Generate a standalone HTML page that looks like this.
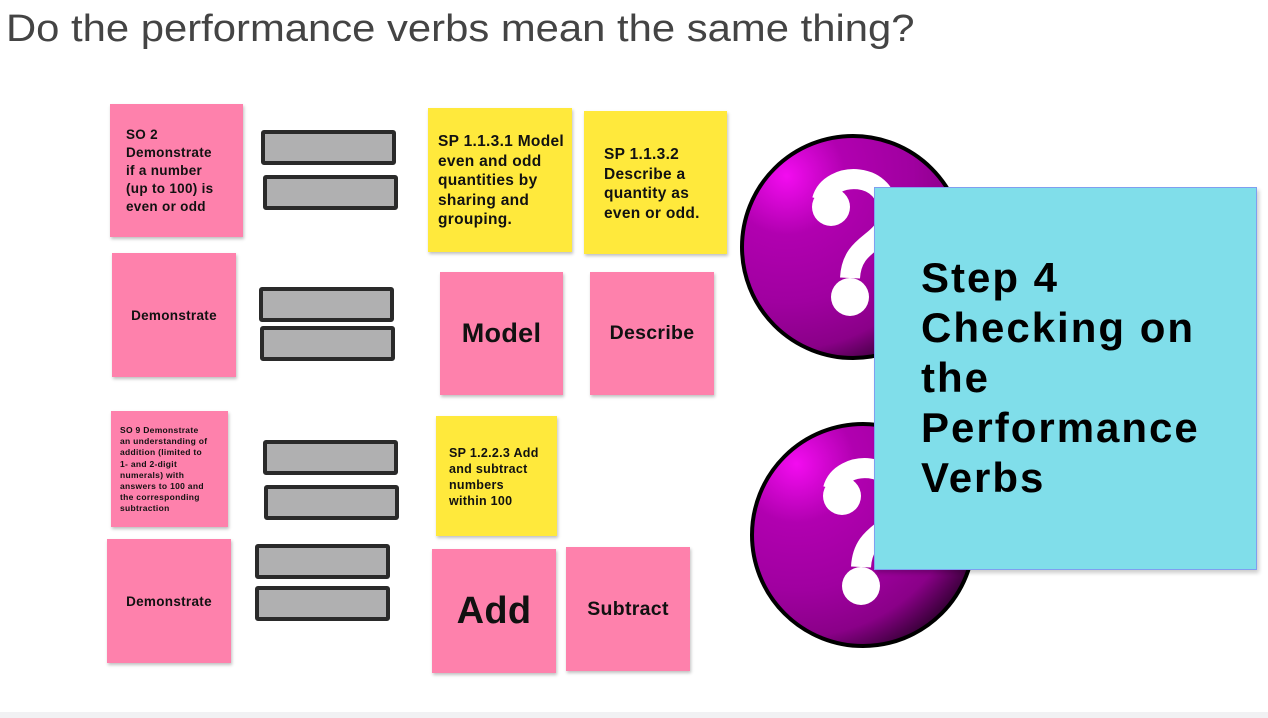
<!DOCTYPE html>
<html><head><meta charset="utf-8"><style>
body{margin:0;width:1268px;height:718px;background:#fff;position:relative;overflow:hidden;font-family:"Liberation Sans",sans-serif}
.a{position:absolute;box-sizing:border-box}
.n{position:absolute;box-sizing:border-box;box-shadow:1px 2px 3px rgba(0,0,0,.25);font-weight:bold;color:#111;letter-spacing:0.3px;white-space:nowrap}
.p{background:#fe81ac}.y{background:#ffe93c}
.g{position:absolute;box-sizing:border-box;background:#b0b0b1;border:4px solid #2a2a2a;border-radius:3px;width:135px;height:35px}
.c{display:flex;align-items:center;justify-content:center}
</style></head><body>
<div class="a" style="left:6px;top:8px;font-size:38px;color:#444;transform:scaleX(1.1);transform-origin:0 0;white-space:nowrap">Do the performance verbs mean the same thing?</div>

<div class="n p" style="left:110px;top:104px;width:133px;height:133px;padding:22px 16px;font-size:13.5px;line-height:18px">SO 2<br>Demonstrate<br>if a number<br>(up to 100) is<br>even or odd</div>
<div class="n p c" style="left:112px;top:253px;width:124px;height:124px;font-size:13.5px">Demonstrate</div>
<div class="n p" style="left:111px;top:411px;width:117px;height:116px;padding:14px 9px;font-size:8.5px;line-height:11.2px">SO 9 Demonstrate<br>an understanding of<br>addition (limited to<br>1- and 2-digit<br>numerals) with<br>answers to 100 and<br>the corresponding<br>subtraction</div>
<div class="n p c" style="left:107px;top:539px;width:124px;height:124px;font-size:13.5px">Demonstrate</div>

<div class="g" style="left:261px;top:130px"></div><div class="g" style="left:263px;top:175px"></div>
<div class="g" style="left:259px;top:287px"></div><div class="g" style="left:260px;top:326px"></div>
<div class="g" style="left:263px;top:440px"></div><div class="g" style="left:264px;top:485px"></div>
<div class="g" style="left:255px;top:544px"></div><div class="g" style="left:255px;top:586px"></div>

<div class="n y" style="left:428px;top:108px;width:144px;height:144px;padding:24px 10px;font-size:15.5px;line-height:19.5px">SP 1.1.3.1 Model<br>even and odd<br>quantities by<br>sharing and<br>grouping.</div>
<div class="n y" style="left:584px;top:111px;width:143px;height:143px;padding:34px 20px;font-size:15.5px;line-height:19.5px">SP 1.1.3.2<br>Describe a<br>quantity as<br>even or odd.</div>
<div class="n p c" style="left:440px;top:272px;width:123px;height:123px;font-size:27px">Model</div>
<div class="n p c" style="left:590px;top:272px;width:124px;height:123px;font-size:19.5px">Describe</div>
<div class="n y" style="left:436px;top:416px;width:121px;height:120px;padding:29px 13px;font-size:12.5px;line-height:16px">SP 1.2.2.3 Add<br>and subtract<br>numbers<br>within 100</div>
<div class="n p c" style="left:432px;top:549px;width:124px;height:124px;font-size:38px">Add</div>
<div class="n p c" style="left:566px;top:547px;width:124px;height:124px;font-size:19.5px">Subtract</div>

<svg class="a" style="left:0;top:0" width="1268" height="718">
<defs><radialGradient id="rg" cx="0.2" cy="0.18" r="0.95">
<stop offset="0" stop-color="#f30cf0"/><stop offset="0.28" stop-color="#b100b0"/><stop offset="0.6" stop-color="#a000a0"/><stop offset="0.82" stop-color="#8a0088"/><stop offset="1" stop-color="#300030"/></radialGradient></defs>
<circle cx="853" cy="247" r="111" fill="url(#rg)" stroke="#000" stroke-width="4"/>
<circle cx="863" cy="535" r="111" fill="url(#rg)" stroke="#000" stroke-width="4"/>
<g fill="#fff" stroke="#fff">
<circle cx="831" cy="207" r="19" stroke="none"/>
<path d="M822 200 C830 170,890 170,888 215 C886 245,852 240,850 278" fill="none" stroke-width="20"/>
<circle cx="850" cy="297" r="19" stroke="none"/>
<circle cx="842" cy="496" r="19" stroke="none"/>
<path d="M833 489 C841 459,901 459,899 504 C897 534,863 529,861 567" fill="none" stroke-width="20"/>
<circle cx="861" cy="586" r="19" stroke="none"/>
</g>
</svg>

<div class="a" style="left:874px;top:187px;width:383px;height:383px;background:#80deea;border:1.5px solid #7f9ff0;box-shadow:2px 3px 4px rgba(0,0,0,.2);padding:65px 0 0 46px;font-size:42px;font-weight:bold;line-height:50px;color:#000;letter-spacing:2px;white-space:nowrap">Step 4<br>Checking on<br>the<br>Performance<br>Verbs</div>

<div class="a" style="left:0;top:712px;width:1268px;height:6px;background:#f1f1f3"></div>
</body></html>
